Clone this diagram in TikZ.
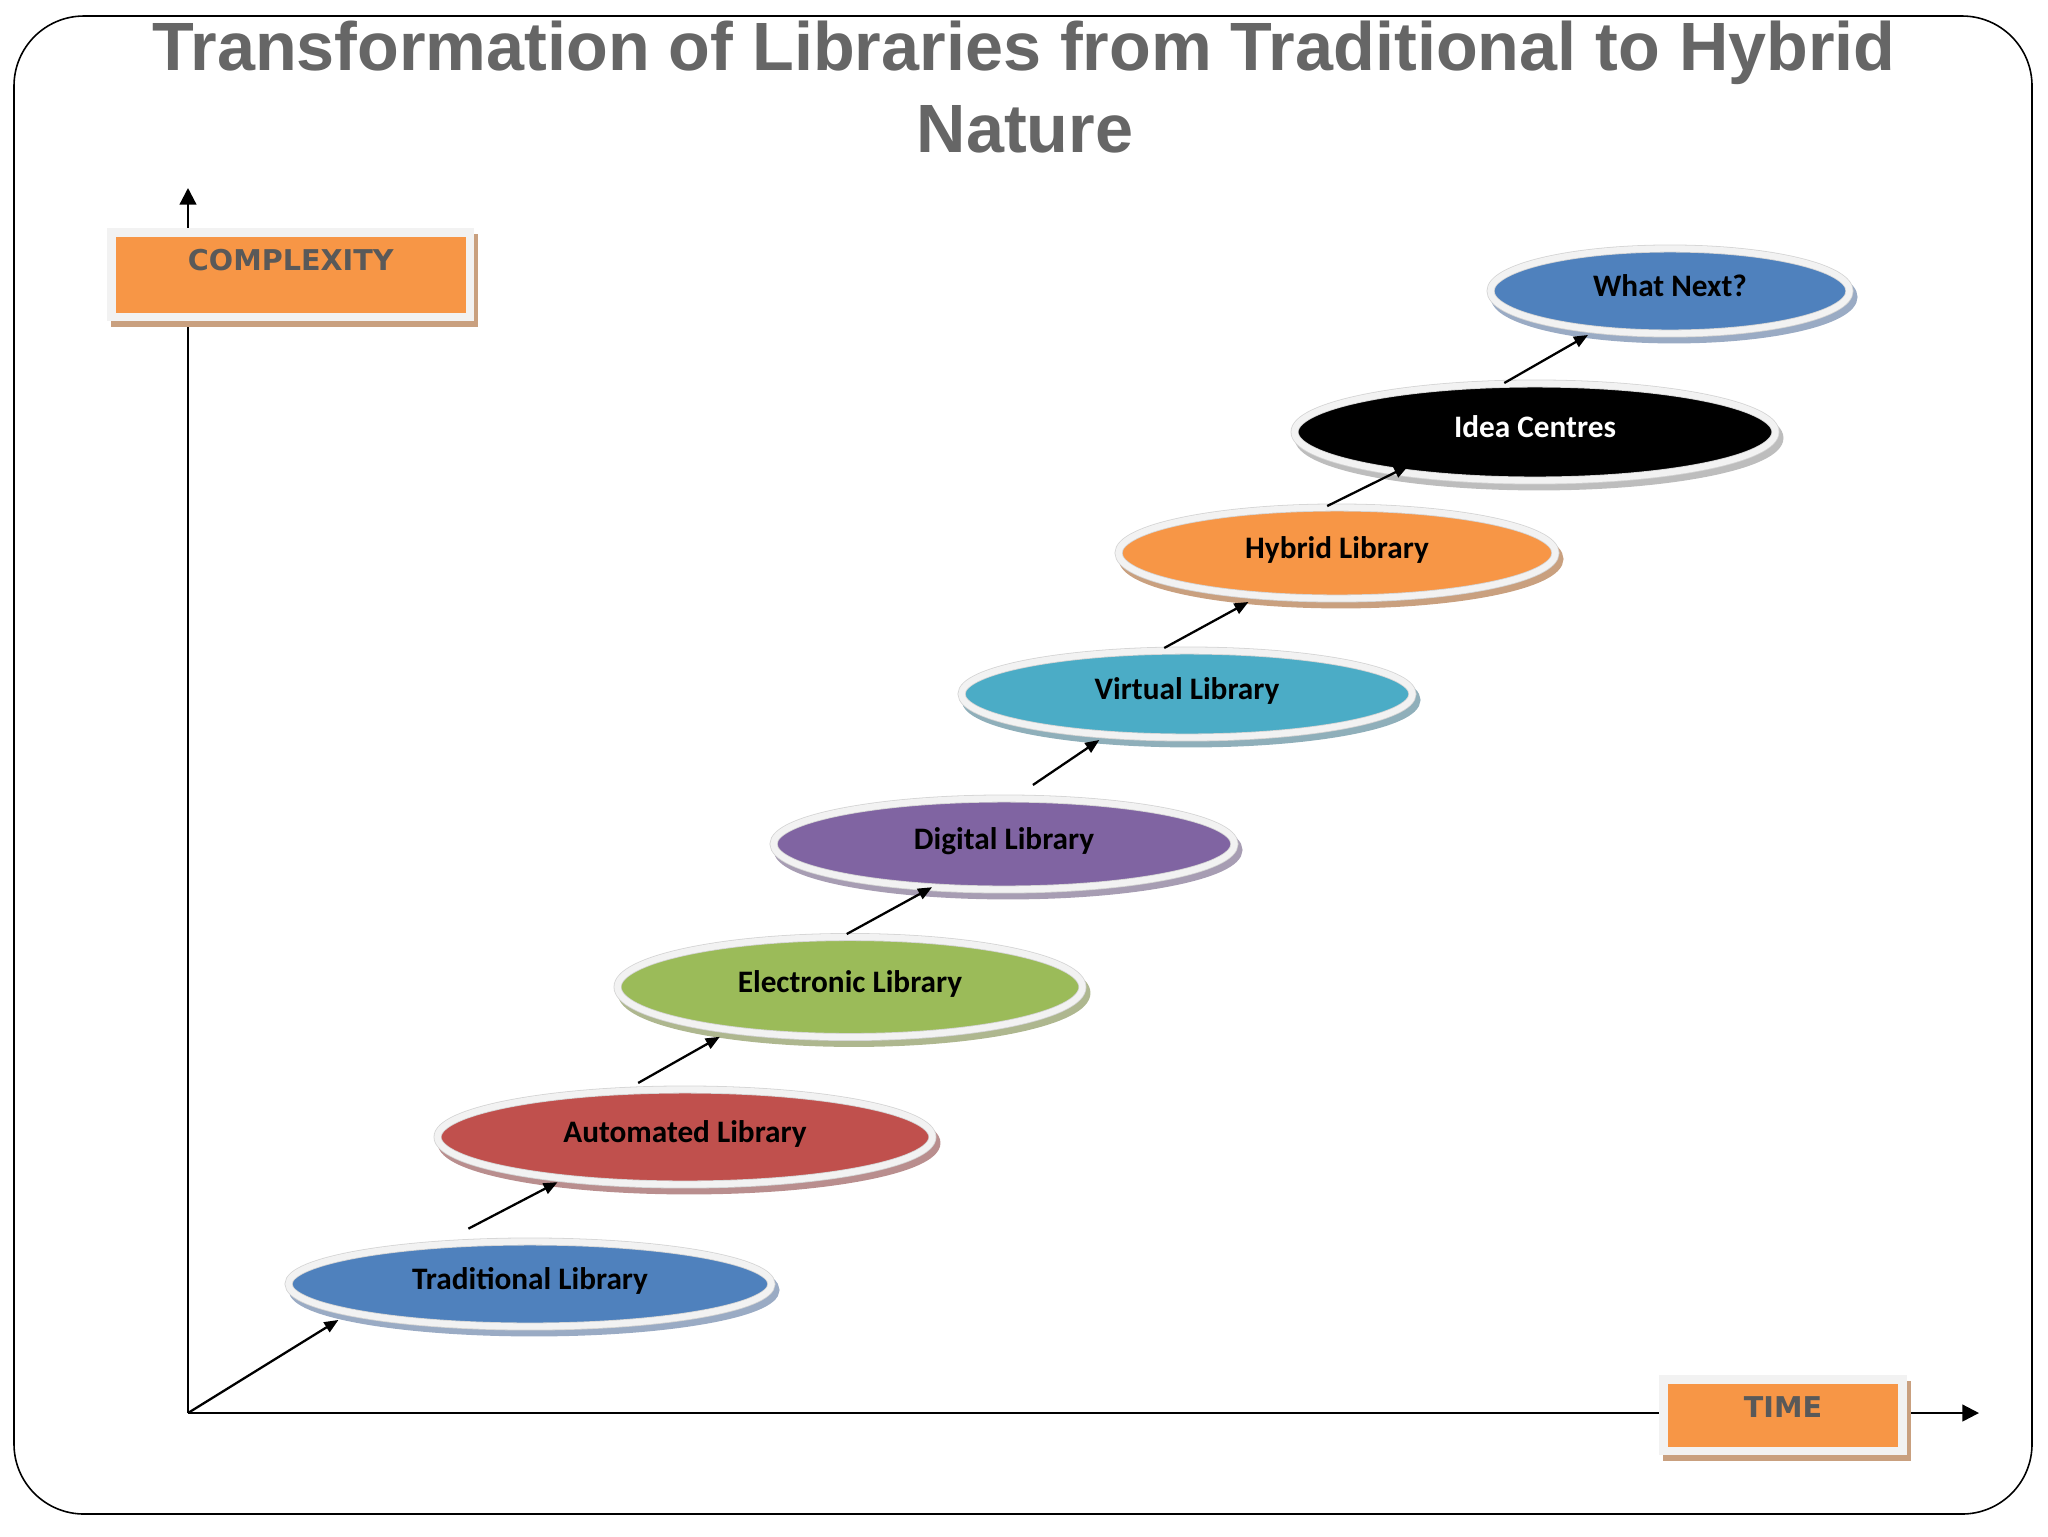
\documentclass[tikz,border=0pt]{standalone}
\usepackage{fontspec}
\setmainfont{Carlito}
\newfontfamily\titlefont{Liberation Sans}
\newfontfamily\axisfont{DejaVu Sans}
\usetikzlibrary{shapes.geometric,shadows,arrows.meta}

\definecolor{titlegray}{HTML}{666666}
\definecolor{axisgray}{HTML}{595959}
\definecolor{boxorange}{HTML}{F79646}
\definecolor{ringwhite}{HTML}{F2F2F2}
\definecolor{ringedge}{HTML}{D4D4D4}
\definecolor{tanshade}{HTML}{C9A07F}
\definecolor{libblue}{HTML}{4F81BD}
\definecolor{libred}{HTML}{C0504D}
\definecolor{libgreen}{HTML}{9BBB59}
\definecolor{libpurple}{HTML}{8064A2}
\definecolor{libaqua}{HTML}{4BACC6}
\definecolor{liborange}{HTML}{F79646}
\definecolor{blueshade}{HTML}{9AABC4}
\definecolor{redshade}{HTML}{B98E8E}
\definecolor{greenshade}{HTML}{AEB78F}
\definecolor{purpleshade}{HTML}{A79DB3}
\definecolor{aquashade}{HTML}{8FAFBA}
\definecolor{greyshade}{HTML}{BDBDBD}

\tikzset{
	libstage/.style 2 args={ellipse, inner sep=0pt, outer sep=0pt, fill=#1,
		draw=ringedge, double=ringwhite, double distance=3.6pt, line width=0.45pt,
		drop shadow={shadow xshift=2.3pt, shadow yshift=-3.4pt, opacity=1, fill=#2, draw=#2, line width=4.5pt},
		text height=12.3pt, text depth=6.6pt, font=\bfseries\fontsize{17.8}{21}\selectfont},
	axisbox/.style={rectangle, inner sep=0pt, fill=boxorange, draw=ringwhite, line width=4.8pt,
		drop shadow={shadow xshift=2.3pt, shadow yshift=-3.4pt, opacity=1, fill=tanshade, draw=tanshade, line width=4.8pt},
		text=axisgray, font=\axisfont\bfseries\fontsize{16.3}{19}\selectfont},
	titletext/.style={inner sep=0pt, text=titlegray, font=\titlefont\bfseries\fontsize{38.9}{46}\selectfont},
	axis/.style={line width=1.3pt, -{Triangle[length=9.5pt,width=9.5pt]}},
	link/.style={line width=1.3pt, -{Triangle[length=8pt,width=6.5pt]}}
}

\begin{document}
\begin{tikzpicture}[x=0.02cm, y=-0.02cm]
	\useasboundingbox (0,0) rectangle (2048,1536);
	\draw[line width=0.9pt, rounded corners=1.4cm] (14,16) rectangle (2032,1514);

	\node[titletext, anchor=base] (title) at (1024,70) {Transformation of Libraries from Traditional to Hybrid};
	\node[titletext, anchor=base] (titleb) at (1025,152) {Nature};

	\coordinate (origin) at (188,1413);
	\coordinate (ytip) at (188,188);
	\coordinate (xtip) at (1979,1413);
	\draw[axis] (origin) -- (ytip);
	\draw[axis] (origin) -- (xtip);

	\node[axisbox, minimum width=7.17cm, text height=21.6pt, text depth=26.5pt] (complexity) at (290.75,274.75) {COMPLEXITY};
	\node[axisbox, minimum width=4.78cm, text height=21.9pt, text depth=18.8pt] (time) at (1783,1415.25) {TIME};

	\node[libstage={libblue}{blueshade}, minimum width=9.66cm, minimum height=1.70cm] (trad) at (530,1284) {Traditional Library};
	\node[libstage={libred}{redshade}, minimum width=9.90cm, minimum height=1.90cm] (autom) at (685,1137) {Automated Library};
	\node[libstage={libgreen}{greenshade}, minimum width=9.30cm, minimum height=2.00cm] (elec) at (850,987) {Electronic Library};
	\node[libstage={libpurple}{purpleshade}, minimum width=9.22cm, minimum height=1.82cm] (digi) at (1004,844) {Digital Library};
	\node[libstage={libaqua}{aquashade}, minimum width=9.02cm, minimum height=1.74cm] (virt) at (1187,694) {Virtual Library};
	\node[libstage={liborange}{tanshade}, minimum width=8.74cm, minimum height=1.82cm] (hybr) at (1337,553) {Hybrid Library};
	\node[libstage={black}{greyshade}, text=white, minimum width=9.62cm, minimum height=1.94cm] (idea) at (1535,432) {Idea Centres};
	\node[libstage={libblue}{blueshade}, minimum width=7.18cm, minimum height=1.70cm] (next) at (1670,291) {What Next?};

	\draw[link, shorten >=8.1pt] (origin) -- (trad.189);
	\draw[link, shorten <=19.8pt, shorten >=4.5pt] (trad.157) -- (autom.199);
	\draw[link, shorten <=9.3pt, shorten >=7.8pt] (autom.143) -- (elec.200);
	\draw[link, shorten <=3.6pt] (elec.100) -- (digi.211);
	\draw[link, shorten <=13.8pt, shorten >=5.4pt] (digi.79) -- (virt.207);
	\draw[link, shorten <=3.4pt, shorten >=7.6pt] (virt.123) -- (hybr.209);
	\draw[link, shorten <=2pt, shorten >=-7.3pt] (hybr.106) -- (idea.196);
	\draw[link, shorten <=1.1pt, shorten >=5.9pt] (idea.124) -- (next.208);
\end{tikzpicture}
\end{document}
